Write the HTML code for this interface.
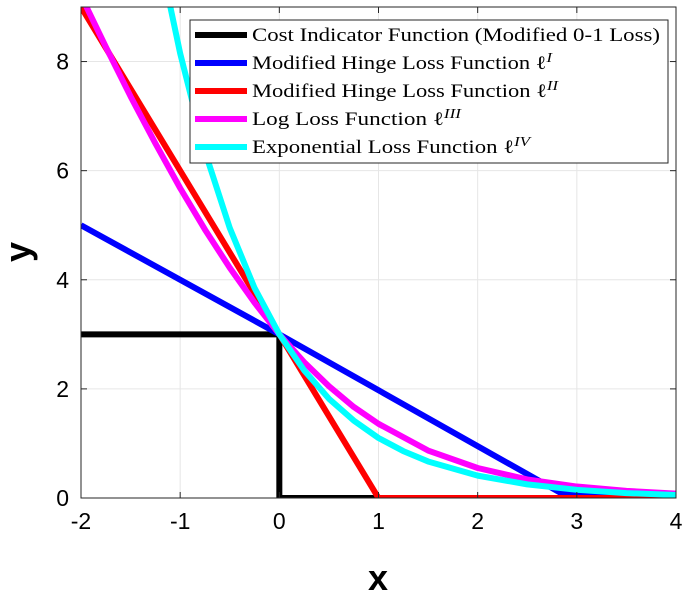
<!DOCTYPE html>
<html><head><meta charset="utf-8"><style>
body{margin:0;background:#fff}
svg{display:block;font-family:"Liberation Sans",sans-serif}
.lg{font-family:"Liberation Serif",serif;font-size:19px}
</style></head><body>
<svg id="chart" width="685" height="593">
<g id="grid"></g>
<g id="series"></g>
<g id="axes"></g>
<text x="378" y="590" text-anchor="middle" font-size="36" font-weight="bold">x</text>
<text transform="translate(30,252) rotate(-90)" text-anchor="middle" font-size="36" font-weight="bold">y</text>
<g id="legend"></g>
</svg>
<script>
const xTicks=[-2,-1,0,1,2,3,4];
const yTicks=[0,2,4,6,8];
const blackX=[-2,0,0,4];
const blackY=[3,3,0,0];
const blueX=[-2,0,2.85,4];
const blueY=[5,3,0.08,0.04];
const redX=[-2,0,1,4];
const redY=[9,3,0,0];
const logX=[-2,-1.75,-1.5,-1.25,-1,-0.75,-0.5,-0.25,0,0.25,0.5,0.75,1,1.5,2,2.5,3,3.5,4];
const logY=[9.21,8.27,7.36,6.5,5.68,4.92,4.22,3.58,3,2.49,2.05,1.67,1.36,0.87,0.55,0.34,0.21,0.13,0.08];
const cyanX=[-1.2,-1.1,-1,-0.75,-0.5,-0.25,0,0.25,0.5,0.75,1,1.25,1.5,2,2.5,3,3.5,4];
const cyanY=[9.96,9.01,8.15,6.35,4.95,3.85,3,2.34,1.82,1.42,1.1,0.86,0.67,0.41,0.25,0.15,0.09,0.055];
const legendLabels=["Cost Indicator Function (Modified 0-1 Loss)","Modified Hinge Loss Function ℓ","Modified Hinge Loss Function ℓ","Log Loss Function ℓ","Exponential Loss Function ℓ"];
const legendSup=["","I","II","III","IV"];
const legendW=[408,300,306,209,278];
const colors=["#000","#0000ff","#ff0000","#ff00ff","#00ffff"];
const L=81,R=676,T=7,B=498,x0=-2,x1=4,y0=0,y1=9;
const sx=v=>L+(v-x0)/(x1-x0)*(R-L);
const sy=v=>B-(v-y0)/(y1-y0)*(B-T);
const NS="http://www.w3.org/2000/svg";
function mk(t,a,p){const e=document.createElementNS(NS,t);for(const k in a)e.setAttribute(k,a[k]);p.appendChild(e);return e;}
const grid=document.getElementById('grid'),axes=document.getElementById('axes'),ser=document.getElementById('series'),lg=document.getElementById('legend');
xTicks.forEach(v=>{const l=mk('line',{x1:sx(v),x2:sx(v),y1:T,y2:B,stroke:'#e6e6e6'},grid);
const t=mk('text',{x:sx(v),y:B+31,'text-anchor':'middle','font-size':'23'},axes);t.textContent=v;
mk('line',{x1:sx(v),x2:sx(v),y1:B,y2:B-6,stroke:'#262626'},axes);mk('line',{x1:sx(v),x2:sx(v),y1:T,y2:T+6,stroke:'#262626'},axes);});
yTicks.forEach(v=>{const l=mk('line',{x1:L,x2:R,y1:sy(v),y2:sy(v),stroke:'#e6e6e6'},grid);
const t=mk('text',{x:L-12,y:sy(v)+8,'text-anchor':'end','font-size':'23'},axes);t.textContent=v;
mk('line',{x1:L,x2:L+6,y1:sy(v),y2:sy(v),stroke:'#262626'},axes);mk('line',{x1:R,x2:R-6,y1:sy(v),y2:sy(v),stroke:'#262626'},axes);});
const fr=mk('rect',{x:L,y:T,width:R-L,height:B-T,fill:'none',stroke:'#262626'},axes);
const cp=mk('clipPath',{id:'cp'},ser);mk('rect',{x:L,y:T,width:R-L,height:B-T},cp);
function line(X,Y,c,n){const p=mk('polyline',{points:X.map((x,i)=>sx(x)+','+sy(Y[i])).join(' '),fill:'none',stroke:c,'stroke-width':6,'stroke-linejoin':'round','clip-path':'url(#cp)'},ser);}
line(blackX,blackY,colors[0],'cost-indicator-line');
line(blueX,blueY,colors[1],'hinge-loss-1-line');
line(redX,redY,colors[2],'hinge-loss-2-line');
line(logX,logY,colors[3],'log-loss-line');
line(cyanX,cyanY,colors[4],'exponential-loss-line');
const lb=mk('rect',{x:190,y:20,width:478,height:143,fill:'#fff',stroke:'#262626'},lg);
legendLabels.forEach((s,i)=>{const y=35+i*28;
const l=mk('line',{x1:195,x2:247,y1:y,y2:y,stroke:colors[i],'stroke-width':6},lg);
const t=mk('text',{x:252,y:y+6,class:'lg',textLength:legendW[i],lengthAdjust:'spacingAndGlyphs'},lg);
t.textContent=s;if(legendSup[i]){const ts=mk('tspan',{dy:-7,'font-size':'14','font-style':'italic'},t);ts.textContent=legendSup[i];}});
</script>
</body></html>
